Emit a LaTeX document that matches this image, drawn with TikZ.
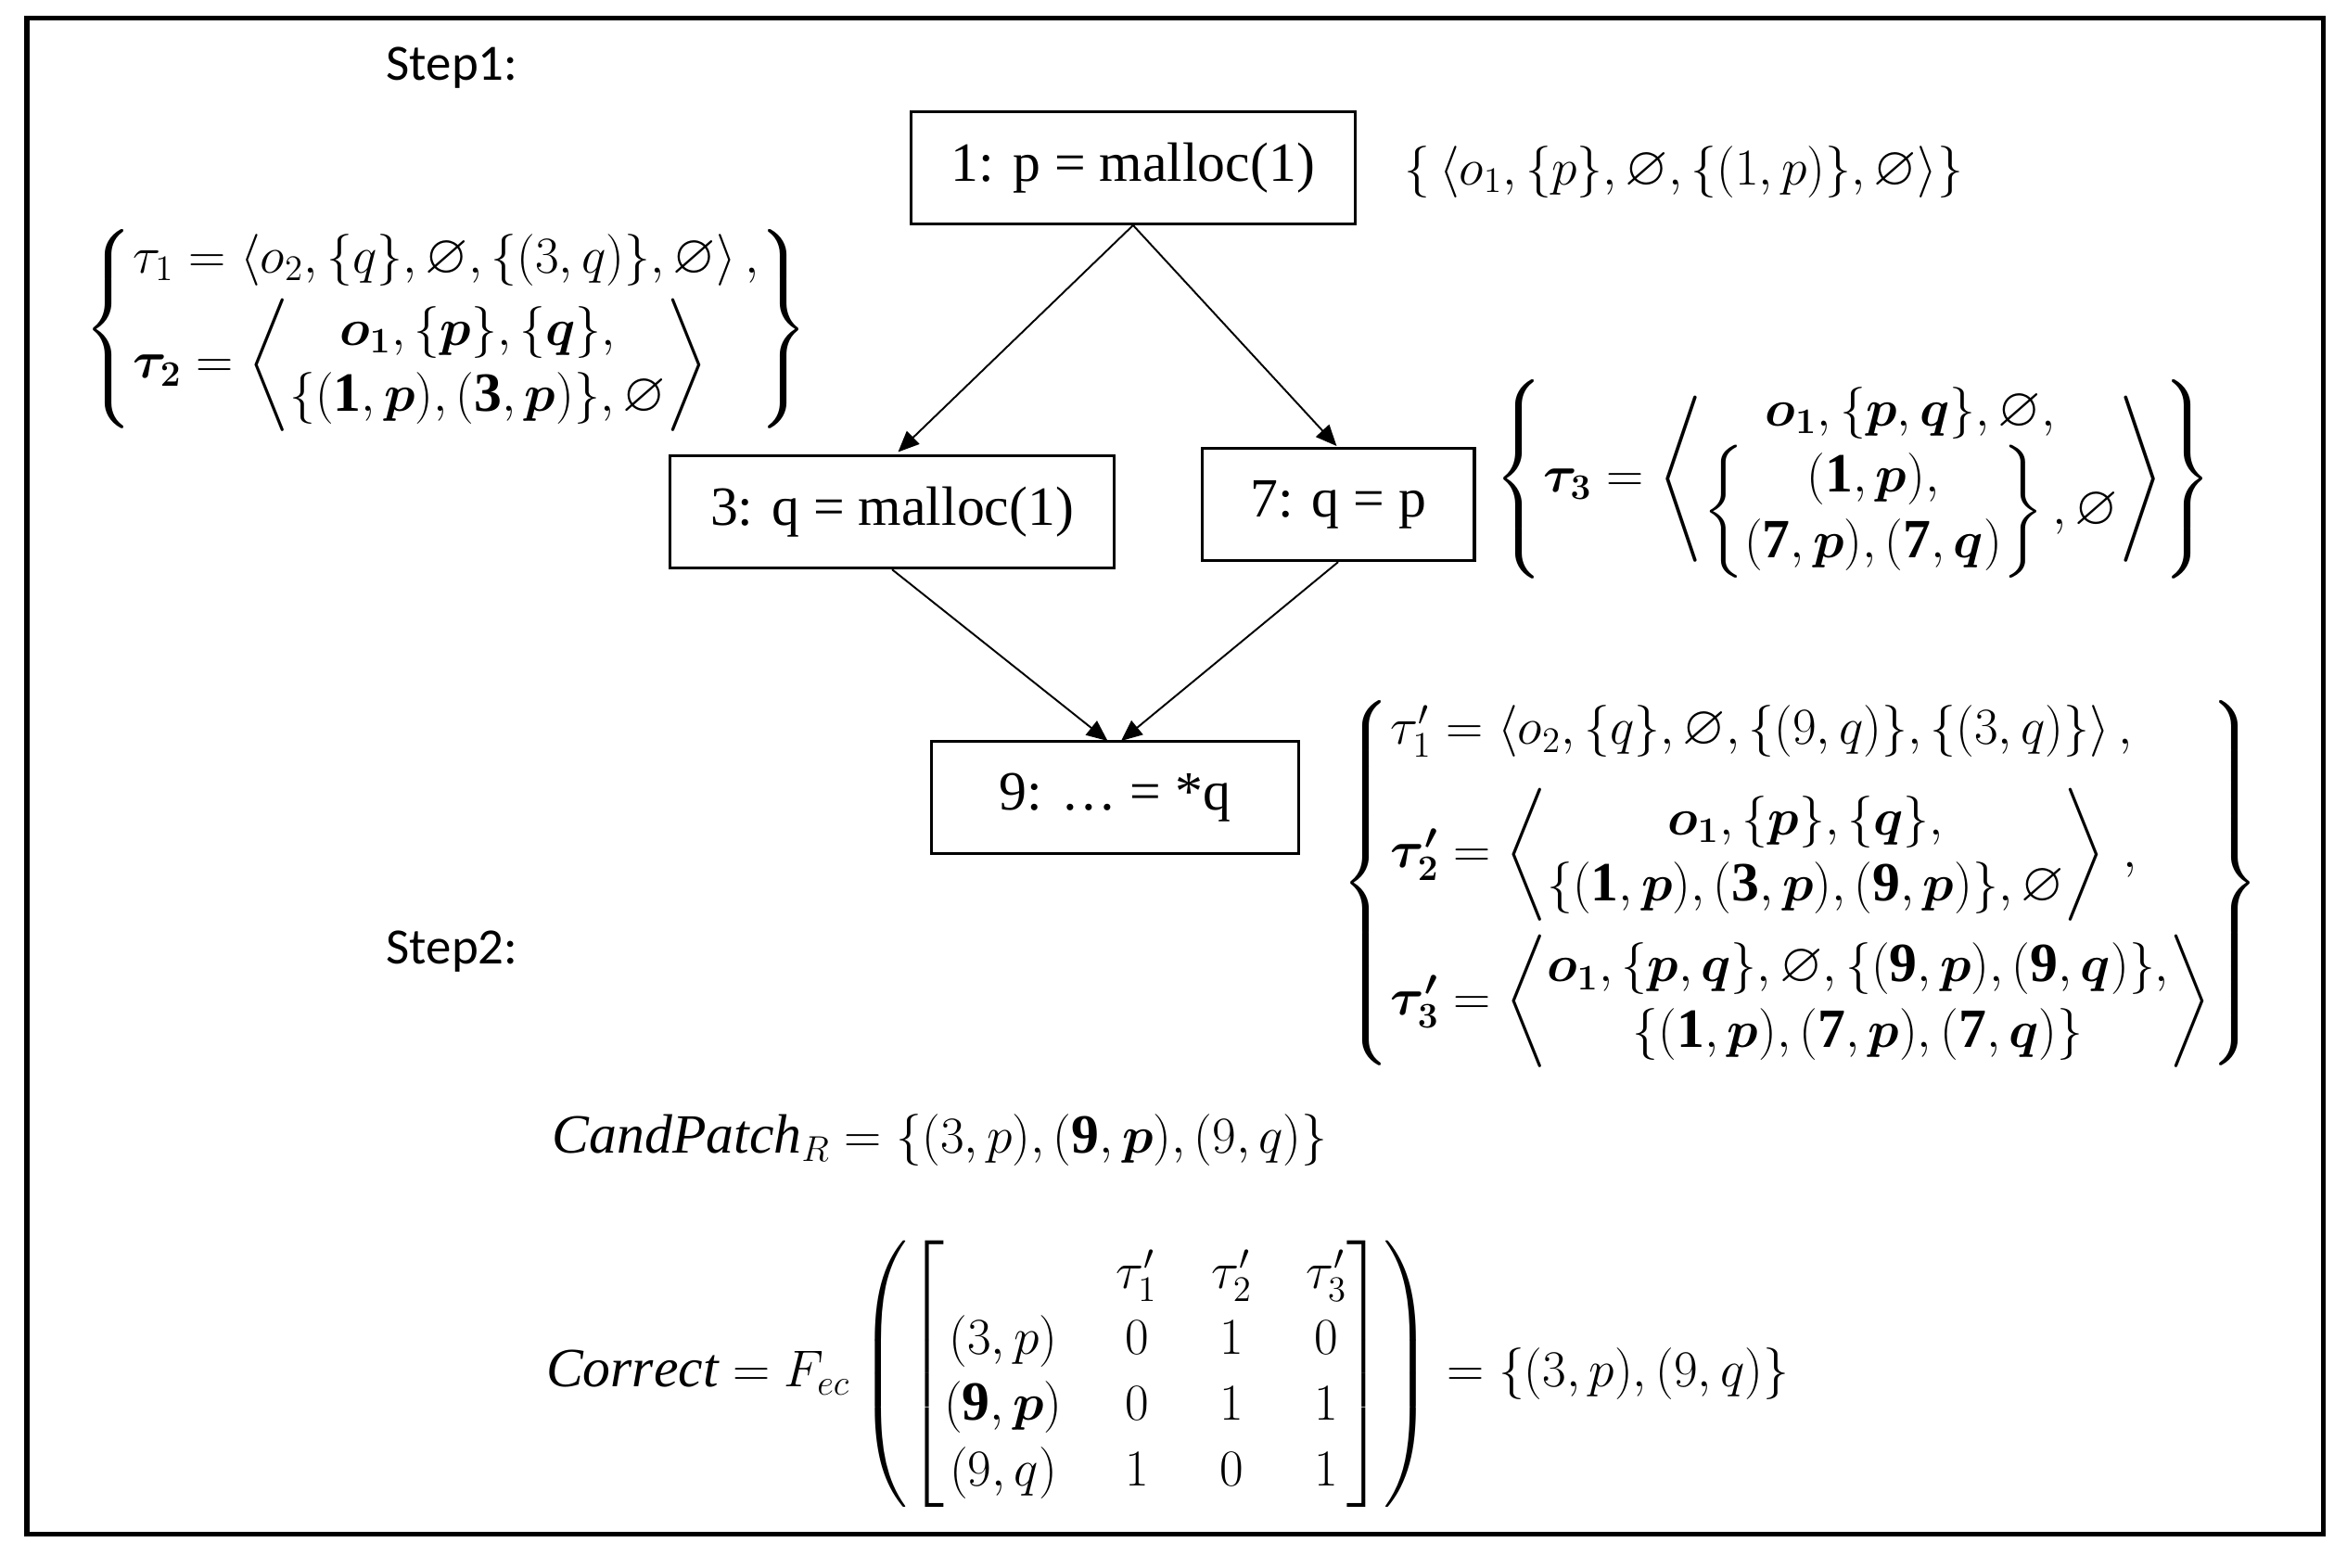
\documentclass[tikz,border=0pt]{standalone}
\usepackage{amsmath,amssymb,bm}
\usepackage{fontspec}
\setmainfont{Liberation Serif}
\newfontfamily\stepfont{Carlito}
\usetikzlibrary{arrows.meta}
\begin{document}
\begin{tikzpicture}[x=0.5pt,y=-0.5pt,
  stmt/.style={draw,line width=1pt,minimum height=37.5pt,font=\fontsize{18.5}{22}\selectfont,inner xsep=8pt},
  flow/.style={-{Triangle[length=7pt,width=6pt]},line width=0.6pt},
  mth/.style={font=\fontsize{18.5}{22}\selectfont,inner sep=0pt},
  lab/.style={font=\stepfont\fontsize{17}{20}\selectfont}]
\useasboundingbox (0,0) rectangle (1568,1047);
\draw[line width=1.6pt] (18,12) rectangle (1552,1025);
\node[lab] (s1) at (302,45) {Step1:};
\node[lab] (s2) at (302,636) {Step2:};
\node[stmt,minimum width=148.5pt] (b1) at (757,112) {1: p = malloc(1)};
\node[stmt,minimum width=148.5pt] (b3) at (596,342) {3: q = malloc(1)};
\node[stmt,minimum width=91pt] (b7) at (894,337) {7: q = p};
\node[stmt,minimum width=122.5pt] (b9) at (745,533) {9: \dots\ = *q};
\coordinate (e3) at (600,302);
\coordinate (e7) at (893,298);
\coordinate (e9a) at (740,495);
\coordinate (e9b) at (749,495);
\draw[flow] (b1.south) -- (e3);
\draw[flow] (b1.south) -- (e7);
\draw[flow] (b3.south) -- (e9a);
\draw[flow] (b7.south) -- (e9b);
\node[mth] (fB) at (1125,115) {$\{\,\langle o_1,\{p\},\varnothing,\{(1,p)\},\varnothing\rangle\}$};
\node[mth] (fA) at (298,220) {$\left\{\begin{array}{@{}l@{}}\tau_1=\langle o_2,\{q\},\varnothing,\{(3,q)\},\varnothing\rangle\,,\\[2pt]
 \bm{\tau_2}=\left\langle\begin{array}{@{}c@{}}\bm{o_1},\{\bm p\},\{\bm q\},\\ \{(\mathbf 1,\bm p),(\mathbf 3,\bm p)\},\varnothing\end{array}\right\rangle\end{array}\right\}$};
\node[mth] (fC) at (1238,320) {$\left\{\bm{\tau_3}=\left\langle\begin{array}{@{}c@{}}\bm{o_1},\{\bm p,\bm q\},\varnothing,\\
 \left\{\begin{array}{@{}c@{}}(\mathbf 1,\bm p),\\ (\mathbf 7,\bm p),(\mathbf 7,\bm q)\end{array}\right\},\varnothing\end{array}\right\rangle\right\}$};
\node[mth] (fD) at (1203,590) {$\left\{\begin{array}{@{}l@{}}\tau_1'=\langle o_2,\{q\},\varnothing,\{(9,q)\},\{(3,q)\}\rangle\,,\\[8pt]
 \bm{\tau_2'}=\left\langle\begin{array}{@{}c@{}}\bm{o_1},\{\bm p\},\{\bm q\},\\ \{(\mathbf 1,\bm p),(\mathbf 3,\bm p),(\mathbf 9,\bm p)\},\varnothing\end{array}\right\rangle\,,\\[16pt]
 \bm{\tau_3'}=\left\langle\begin{array}{@{}c@{}}\bm{o_1},\{\bm p,\bm q\},\varnothing,\{(\mathbf 9,\bm p),(\mathbf 9,\bm q)\},\\ \{(\mathbf 1,\bm p),(\mathbf 7,\bm p),(\mathbf 7,\bm q)\}\end{array}\right\rangle\end{array}\right\}$};
\node[mth] (fE) at (628,762) {$\mathit{CandPatch}_R=\{(3,p),(\mathbf 9,\bm p),(9,q)\}$};
\node[mth] (fF) at (780,918) {$\mathit{Correct}=F_{ec}\left(\setlength\arraycolsep{9pt}\begin{bmatrix} & \tau_1' & \tau_2' & \tau_3'\\ (3,p) & 0 & 1 & 0\\ (\mathbf 9,\bm p) & 0 & 1 & 1\\ (9,q) & 1 & 0 & 1\end{bmatrix}\right)=\{(3,p),(9,q)\}$};
\end{tikzpicture}
\end{document}
